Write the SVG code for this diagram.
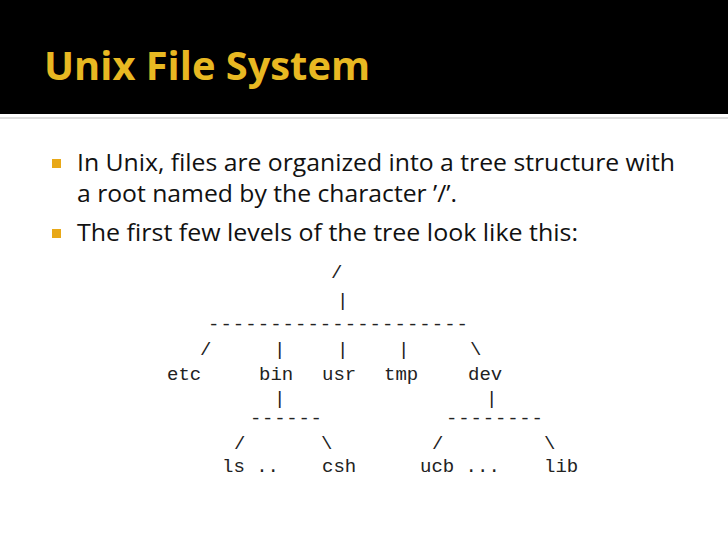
<svg xmlns="http://www.w3.org/2000/svg" width="728" height="546" viewBox="0 0 728 546">
<style>
.t{font-family:"Liberation Mono",monospace;font-size:19px;fill:#222}
.b{font-family:"Open Sans","Liberation Sans",sans-serif;font-size:23px;fill:#111}
</style>
<rect width="728" height="546" fill="#fff"/>
<rect width="728" height="114" fill="#000"/>
<line x1="0" y1="118" x2="728" y2="118" stroke="#bbb" stroke-width="1"/>
<text x="44" y="80" font-family="Open Sans,Liberation Sans,sans-serif" font-weight="bold" font-size="40" fill="#e8b822" textLength="326" lengthAdjust="spacingAndGlyphs">Unix File System</text>
<g id="bullets">
<rect x="52" y="159" width="9" height="9" fill="#e8a818"/>
<rect x="52" y="229" width="9" height="9" fill="#e8a818"/>
<text class="b" x="77" y="171" textLength="598" lengthAdjust="spacingAndGlyphs">In Unix, files are organized into a tree structure with</text>
<text class="b" x="77" y="202" textLength="380" lengthAdjust="spacingAndGlyphs">a root named by the character ’/’.</text>
<text class="b" x="77" y="241" textLength="501" lengthAdjust="spacingAndGlyphs">The first few levels of the tree look like this:</text>
</g>
<g id="tree">
<text class="t" x="331" y="278">/</text>
<text class="t" x="337" y="306">|</text>
<text class="t" x="208" y="330" textLength="260" lengthAdjust="spacing">---------------------</text>
<text class="t" x="200" y="355">/</text>
<text class="t" x="274" y="355">|</text>
<text class="t" x="337" y="355">|</text>
<text class="t" x="398" y="355">|</text>
<text class="t" x="470" y="355">\</text>
<text class="t" x="167" y="380">etc</text>
<text class="t" x="259" y="380">bin</text>
<text class="t" x="322" y="380">usr</text>
<text class="t" x="384" y="380">tmp</text>
<text class="t" x="468" y="380">dev</text>
<text class="t" x="274" y="404">|</text>
<text class="t" x="486" y="404">|</text>
<text class="t" x="250" y="424" textLength="72" lengthAdjust="spacing">------</text>
<text class="t" x="446" y="424" textLength="97" lengthAdjust="spacing">--------</text>
<text class="t" x="234" y="449">/</text>
<text class="t" x="321" y="449">\</text>
<text class="t" x="432" y="449">/</text>
<text class="t" x="544" y="449">\</text>
<text class="t" x="222" y="472">ls ..</text>
<text class="t" x="322" y="472">csh</text>
<text class="t" x="420" y="472">ucb ...</text>
<text class="t" x="544" y="472">lib</text>
</g>
</svg>
